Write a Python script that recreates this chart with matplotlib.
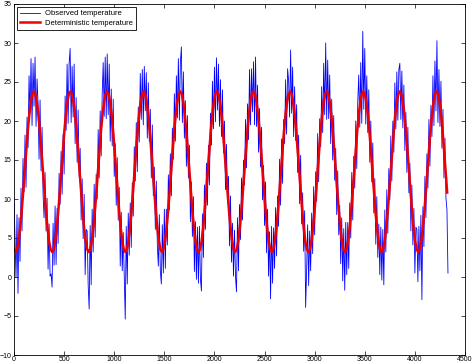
import numpy as np
import matplotlib
matplotlib.use("Agg")
import matplotlib.pyplot as plt

plt.rcParams["font.family"] = ["Liberation Sans", "DejaVu Sans"]

# observed daily temperature, read every 10 days (day 0 .. 4330)
obs_step = 10
observed = [
    # year 1
    10.2, 5.3, -0.1, 8.0, -2.1, 7.6, 2.0, 11.4, 5.9, 15.2, 10.9, 18.2, 11.5, 20.5, 16.6, 25.8, 21.0, 28.0, 19.4,
    27.4, 21.9, 28.2, 19.3, 25.4, 22.2, 15.1, 22.7, 13.6, 19.2, 10.6, 7.6, 13.4, 5.9, 10.1, 1.0, 6.8, 0.1,
    # year 2
    0.4, -1.3, 6.9, 1.5, 9.1, 1.6, 8.8, 4.3, 13.3, 9.3, 16.1, 10.6, 18.3, 13.2, 23.2, 18.8, 27.3, 19.7,
    27.4, 29.3, 19.8, 27.0, 20.5, 27.3, 17.1, 23.0, 14.7, 21.4, 12.9, 16.5, 7.3, 12.6, 4.9, 10.6, 0.3, 6.1,
    # year 3
    5.9, -1.0, -4.1, 6.6, -1.0, 8.7, 3.2, 11.9, 5.1, 13.2, 10.0, 18.9, 12.7, 21.3, 15.5, 23.4, 27.5, 20.6, 28.2,
    20.3, 28.6, 20.8, 27.3, 17.4, 24.1, 16.8, 22.8, 12.9, 17.1, 9.2, 15.3, 7.3, 11.5, 1.4, 8.3, 0.8, 5.7,
    # year 4
    -0.1, -5.4, 6.5, -0.9, 8.2, 2.8, 9.5, 3.8, 12.1, 7.8, 16.7, 12.3, 19.8, 13.5, 21.8, 17.3, 26.1, 20.2,
    26.6, 19.5, 27.0, 21.3, 26.2, 17.8, 24.9, 17.4, 21.5, 12.7, 19.5, 10.4, 14.1, 6.1, 12.3, 4.1, 1.4, 8.0,
    # year 5
    0.8, -0.9, 6.7, 0.5, 8.7, 1.1, 8.7, 4.1, 13.1, 8.6, 15.8, 10.4, 19.1, 15.1, 23.5, 17.4, 25.8, 20.4, 28.0,
    20.1, 27.5, 29.5, 19.8, 26.3, 17.8, 22.6, 14.2, 20.7, 12.7, 16.9, 7.1, 12.2, 5.2, 10.3, 0.7, 7.1, -0.3,
    # year 6
    6.4, -0.8, 6.5, -0.2, -1.8, 8.1, 2.5, 11.8, 6.1, 14.6, 9.2, 16.9, 11.8, 21.0, 16.9, 25.1, 19.0, 26.9,
    19.9, 28.1, 21.4, 27.3, 19.3, 25.3, 18.0, 24.0, 15.9, 20.0, 11.2, 17.0, 9.5, 12.9, 4.0, 10.4, 1.9, 6.9,
    # year 7
    0.1, 6.0, 0.1, -1.9, 7.6, 0.8, 9.3, 4.8, 12.7, 7.3, 15.0, 11.8, 20.2, 14.0, 22.2, 17.6, 26.6, 19.5, 26.7,
    21.2, 27.6, 19.5, 28.2, 19.3, 24.6, 16.0, 21.6, 14.1, 19.2, 9.9, 14.3, 6.6, 12.2, 3.1, 8.7, 0.1, 5.8,
    # year 8
    -2.8, 6.5, -0.8, 6.3, 1.1, 8.9, 2.7, 10.4, 6.5, 15.1, 9.2, 17.7, 12.0, 20.2, 17.1, 25.3, 18.3, 26.7,
    25.2, 20.5, 29.1, 21.0, 26.9, 18.0, 24.4, 17.5, 22.1, 13.4, 18.2, 9.4, 15.6, 6.8, 10.8, 3.3, 8.5, -3.9,
    # year 9
    1.0, 6.7, -1.1, 5.9, 0.8, 8.2, 3.0, 11.6, 5.4, 13.5, 9.7, 18.4, 12.2, 20.3, 16.7, 24.4, 18.5, 27.4, 20.8,
    30.0, 20.2, 27.8, 20.3, 25.9, 17.1, 22.8, 15.0, 20.7, 12.4, 16.5, 8.0, 13.6, 5.4, 9.2, 1.7, 7.6, -0.5,
    # year 10
    6.2, -1.7, 7.0, 0.3, 7.0, 1.1, 9.5, 5.0, 13.4, 7.3, 15.5, 11.4, 20.0, 13.9, 22.5, 25.9, 19.2, 27.5,
    19.7, 31.5, 21.5, 29.3, 19.6, 25.8, 18.5, 24.0, 14.7, 20.0, 12.2, 17.2, 8.2, 12.6, 4.2, 10.3, 2.5, 6.8,
    # year 11
    0.3, 6.4, -0.4, 6.1, -1.0, 8.6, 3.2, 11.2, 5.6, 13.9, 9.9, 18.1, 12.3, 20.0, 16.0, 24.9, 19.0, 26.3, 20.1,
    26.6, 27.4, 20.2, 26.4, 19.1, 24.6, 16.2, 21.1, 13.4, 19.2, 10.8, 14.6, 5.9, 11.8, 4.1, 8.8, 0.5, 6.4,
    # year 12 (partial)
    6.1, -0.6, 6.5, 0.8, 7.9, -2.9, 9.0, 3.9, 12.9, 7.6, 15.8, 11.4, 20.2, 14.2, 22.0, 18.0, 25.8, 19.4,
    27.7, 21.3, 30.3, 19.8, 26.6, 19.3, 25.1, 16.5, 21.5, 12.7, 17.8, 10.1, 8.6, 0.5,
]

# deterministic (seasonal) temperature, read 24 times per year
det_step = 365.25 / 24
deterministic = [
    3.55, 3.2, 3.55, 4.58, 6.22, 8.35, 10.83, 13.5, 16.17, 18.65, 20.78, 22.42,
    23.45, 23.8, 23.45, 22.42, 20.78, 18.65, 16.17, 13.5, 10.83, 8.35, 6.22, 4.58,
    3.55, 3.2, 3.55, 4.58, 6.22, 8.35, 10.83, 13.5, 16.17, 18.65, 20.78, 22.42,
    23.45, 23.8, 23.45, 22.42, 20.78, 18.65, 16.17, 13.5, 10.83, 8.35, 6.22, 4.58,
    3.55, 3.2, 3.55, 4.58, 6.22, 8.35, 10.83, 13.5, 16.17, 18.65, 20.78, 22.42,
    23.45, 23.8, 23.45, 22.42, 20.78, 18.65, 16.17, 13.5, 10.83, 8.35, 6.22, 4.58,
    3.55, 3.2, 3.55, 4.58, 6.22, 8.35, 10.83, 13.5, 16.17, 18.65, 20.78, 22.42,
    23.45, 23.8, 23.45, 22.42, 20.78, 18.65, 16.17, 13.5, 10.83, 8.35, 6.22, 4.58,
    3.55, 3.2, 3.55, 4.58, 6.22, 8.35, 10.83, 13.5, 16.17, 18.65, 20.78, 22.42,
    23.45, 23.8, 23.45, 22.42, 20.78, 18.65, 16.17, 13.5, 10.83, 8.35, 6.22, 4.58,
    3.55, 3.2, 3.55, 4.58, 6.22, 8.35, 10.83, 13.5, 16.17, 18.65, 20.78, 22.42,
    23.45, 23.8, 23.45, 22.42, 20.78, 18.65, 16.17, 13.5, 10.83, 8.35, 6.22, 4.58,
    3.55, 3.2, 3.55, 4.58, 6.22, 8.35, 10.83, 13.5, 16.17, 18.65, 20.78, 22.42,
    23.45, 23.8, 23.45, 22.42, 20.78, 18.65, 16.17, 13.5, 10.83, 8.35, 6.22, 4.58,
    3.55, 3.2, 3.55, 4.58, 6.22, 8.35, 10.83, 13.5, 16.17, 18.65, 20.78, 22.42,
    23.45, 23.8, 23.45, 22.42, 20.78, 18.65, 16.17, 13.5, 10.83, 8.35, 6.22, 4.58,
    3.55, 3.2, 3.55, 4.58, 6.22, 8.35, 10.83, 13.5, 16.17, 18.65, 20.78, 22.42,
    23.45, 23.8, 23.45, 22.42, 20.78, 18.65, 16.17, 13.5, 10.83, 8.35, 6.22, 4.58,
    3.55, 3.2, 3.55, 4.58, 6.22, 8.35, 10.83, 13.5, 16.17, 18.65, 20.78, 22.42,
    23.45, 23.8, 23.45, 22.42, 20.78, 18.65, 16.17, 13.5, 10.83, 8.35, 6.22, 4.58,
    3.55, 3.2, 3.55, 4.58, 6.22, 8.35, 10.83, 13.5, 16.17, 18.65, 20.78, 22.42,
    23.45, 23.8, 23.45, 22.42, 20.78, 18.65, 16.17, 13.5, 10.83, 8.35, 6.22, 4.58,
    3.55, 3.2, 3.55, 4.58, 6.22, 8.35, 10.83, 13.5, 16.17, 18.65, 20.78, 22.42,
    23.45, 23.8, 23.45, 22.42, 20.78, 18.65, 16.17, 13.5, 10.83,
]

x_ticks = [0, 500, 1000, 1500, 2000, 2500, 3000, 3500, 4000, 4500]
y_ticks = [-10, -5, 0, 5, 10, 15, 20, 25, 30, 35]

obs_days = np.arange(len(observed)) * obs_step
det_days = np.arange(len(deterministic)) * det_step

fig = plt.figure(figsize=(4.74, 3.63), dpi=100)
ax = fig.add_axes([14 / 474, 8 / 363, 451 / 474, 351 / 363])

ax.plot(obs_days, observed, color="#0000ff", lw=0.6, label="Observed temperature")
ax.plot(det_days, deterministic, color="#ee0000", lw=1.8, label="Deterministic temperature")

ax.set_xlim(0, 4500)
ax.set_ylim(-10, 35)
ax.set_xticks(x_ticks)
ax.set_yticks(y_ticks)
ax.tick_params(direction="in", length=3, width=0.5, top=True, right=True,
               labelsize=5, pad=2)
ax.tick_params(axis="x", pad=1)
for s in ax.spines.values():
    s.set_linewidth(0.6)

leg = ax.legend(loc="upper left", fontsize=5.5, fancybox=False, framealpha=1,
                edgecolor="black", handlelength=2.6, handletextpad=0.7,
                borderaxespad=0.4, borderpad=0.4, labelspacing=0.3)
leg.get_frame().set_linewidth(0.6)

fig.savefig("out.png", dpi=100)
